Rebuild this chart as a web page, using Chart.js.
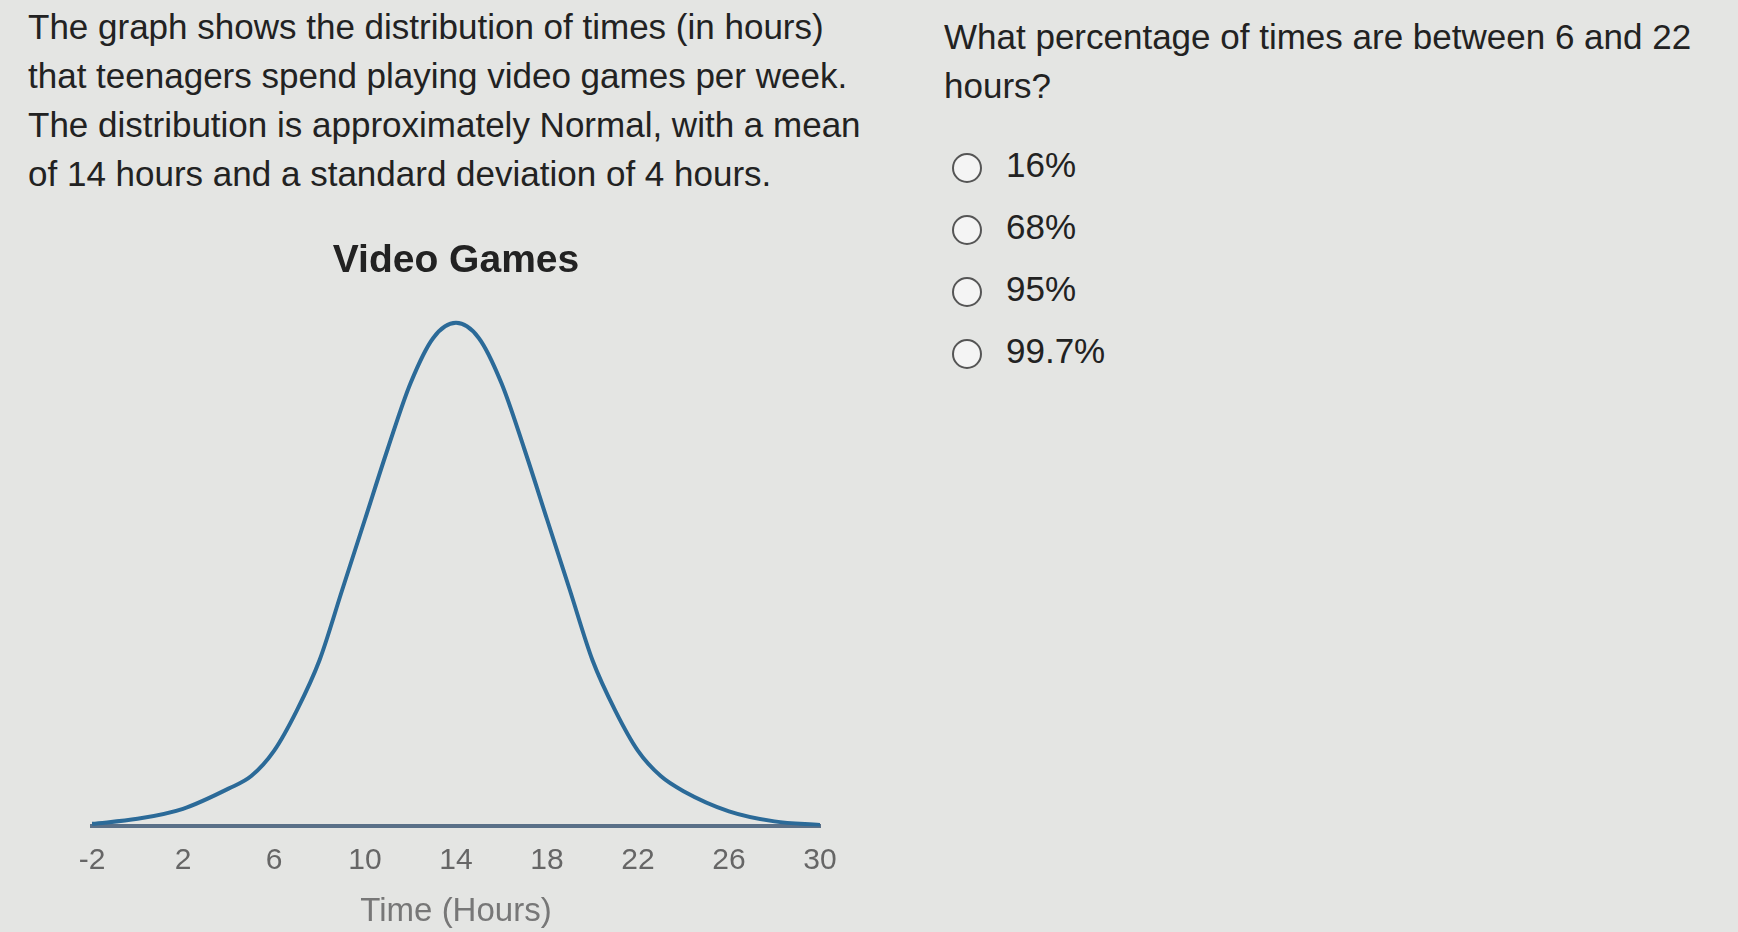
<!DOCTYPE html>
<html><head><meta charset="utf-8">
<script src="https://cdn.jsdelivr.net/npm/chart.js@4/dist/chart.umd.min.js"></script>
<style>
body{margin:0;width:1738px;height:932px;background:#e4e5e3;font-family:"Liberation Sans",Arial,sans-serif;color:#222;overflow:hidden;position:relative}
.t{position:absolute;font-size:35px;line-height:49px}
#q{left:28px;top:2px;width:900px}
#q2{left:944px;top:12px;width:790px}
.opt{position:absolute;left:952px;font-size:35px}
.opt span{display:inline-block;width:26px;height:26px;border:2px solid #555;border-radius:50%;background:#f4f4f4;vertical-align:middle;margin-right:24px}
#wrap{position:absolute;left:40px;top:224px;width:830px;height:712px}
</style></head><body>
<div class="t" id="q">The graph shows the distribution of times (in hours)<br>that teenagers spend playing video games per week.<br>The distribution is approximately Normal, with a mean<br>of 14 hours and a standard deviation of 4 hours.</div>
<div class="t" id="q2">What percentage of times are between 6 and 22<br>hours?</div>
<div class="opt" style="top:145px"><span></span>16%</div>
<div class="opt" style="top:207px"><span></span>68%</div>
<div class="opt" style="top:269px"><span></span>95%</div>
<div class="opt" style="top:331px"><span></span>99.7%</div>
<div id="wrap"><canvas id="c"></canvas></div>
<script>
const hours = [-2,0,2,4,5,6,7,8,9,10,11,12,13,14,15,16,17,18,19,20,21,22,23,24,26,28,30];
const density = [0.005,0.015,0.035,0.075,0.1,0.15,0.23,0.33,0.47,0.61,0.75,0.88,0.97,1,0.97,0.88,0.75,0.61,0.47,0.33,0.23,0.15,0.1,0.07,0.03,0.01,0.003];
const tickValues = [-2,2,6,10,14,18,22,26,30];
new Chart(document.getElementById('c'),{
 type:'line',
 data:{datasets:[{data:hours.map((h,i)=>({x:h,y:density[i]})),borderColor:'#2b6a98',borderWidth:4,pointRadius:0,cubicInterpolationMode:'monotone',fill:false}]},
 options:{responsive:true,maintainAspectRatio:false,animation:false,
  layout:{padding:{left:52,right:50,top:0,bottom:0}},
  plugins:{legend:{display:false},tooltip:{enabled:false},
   title:{display:true,text:'Video Games',color:'#222',font:{family:'Liberation Sans',size:39,weight:'bold'},padding:{top:14,bottom:28}}},
  scales:{
   x:{type:'linear',min:-2,max:30,afterBuildTicks:a=>{a.ticks=tickValues.map(v=>({value:v}))},
      grid:{display:false,drawTicks:true,tickLength:6,color:'#5a7088'},border:{color:'#5a7088',width:4},
      ticks:{color:'#666',font:{family:'Liberation Sans',size:30},padding:10},
      title:{display:true,text:'Time (Hours)',color:'#777',font:{family:'Liberation Sans',size:33},padding:{top:4}}},
   y:{display:false,min:0,max:1.02}
  }}
});
</script></body></html>
